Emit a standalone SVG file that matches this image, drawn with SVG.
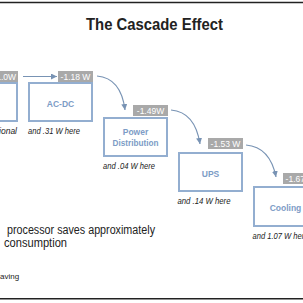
<svg xmlns="http://www.w3.org/2000/svg" width="303" height="303" viewBox="0 0 303 303">
<defs>
<style>
.rule{stroke:#222;stroke-width:1.5}
.box{fill:#fff;stroke:#93aed0;stroke-width:2}
.lbl{fill:#a9a9a9}
.lt{font-family:"Liberation Sans",Arial,sans-serif;font-size:8.5px;fill:#fff}
.bt{font-family:"Liberation Sans",Arial,sans-serif;font-size:8.5px;font-weight:bold;fill:#7d9cc6;text-anchor:middle}
.cap{font-family:"Liberation Sans",Arial,sans-serif;font-size:8.5px;font-style:italic;fill:#222}
.body{font-family:"Liberation Sans",Arial,sans-serif;font-size:12px;fill:#222}
.conn{fill:none;stroke:#7893b4;stroke-width:1.2}
</style>
<marker id="ah" markerWidth="6" markerHeight="6" refX="6" refY="3" orient="auto" markerUnits="userSpaceOnUse">
<path d="M0,0 L6,3 L0,6 Z" fill="#7893b4"/>
</marker>
</defs>
<rect width="303" height="303" fill="#fff"/>
<line class="rule" x1="0" y1="2.5" x2="303" y2="2.5"/>
<line class="rule" x1="0" y1="298.8" x2="303" y2="298.8"/>
<text x="154.5" y="30" font-family="Liberation Sans, Arial, sans-serif" font-size="16.5" font-weight="bold" fill="#222" text-anchor="middle" textLength="137" lengthAdjust="spacingAndGlyphs">The Cascade Effect</text>

<g id="connectors">
<line class="conn" x1="23" y1="76.5" x2="57" y2="76.5" marker-end="url(#ah)"/>
<path class="conn" d="M97,76 Q121,78 125,110" marker-end="url(#ah)"/>
<path class="conn" d="M171,110 Q195,112 200,144" marker-end="url(#ah)"/>
<path class="conn" d="M246,145 Q270,147 276,177" marker-end="url(#ah)"/>
</g>

<g id="node-server">
<rect class="box" x="-46" y="83" width="63" height="38"/>
<rect class="lbl" x="-17" y="71" width="35" height="11"/>
<text class="lt" x="16" y="80" text-anchor="end">-1.0W</text>
<text class="cap" x="17" y="134" text-anchor="end">tional</text>
</g>

<g id="node-acdc">
<rect class="box" x="29" y="83" width="63" height="38"/>
<rect class="lbl" x="58" y="71" width="35" height="11"/>
<text class="lt" x="75.5" y="80" text-anchor="middle">-1.18 W</text>
<text class="bt" x="60.5" y="107">AC-DC</text>
<text class="cap" x="28" y="134" textLength="52" lengthAdjust="spacingAndGlyphs">and .31 W here</text>
</g>

<g id="node-pd">
<rect class="box" x="104" y="118" width="63" height="38"/>
<rect class="lbl" x="133" y="105" width="35" height="11"/>
<text class="lt" x="150.5" y="114" text-anchor="middle">-1.49W</text>
<text class="bt" x="135.5" y="135">Power</text>
<text class="bt" x="135.5" y="146" textLength="46" lengthAdjust="spacingAndGlyphs">Distribution</text>
<text class="cap" x="103" y="169" textLength="52" lengthAdjust="spacingAndGlyphs">and .04 W here</text>
</g>

<g id="node-ups">
<rect class="box" x="179" y="153" width="63" height="38"/>
<rect class="lbl" x="208" y="138" width="35" height="11"/>
<text class="lt" x="225.5" y="147" text-anchor="middle">-1.53 W</text>
<text class="bt" x="210.5" y="176.5">UPS</text>
<text class="cap" x="177.5" y="203.5" textLength="53" lengthAdjust="spacingAndGlyphs">and .14 W here</text>
</g>

<g id="node-cooling">
<rect class="box" x="254" y="187" width="63" height="39"/>
<rect class="lbl" x="283" y="173" width="35" height="11"/>
<text class="lt" x="300.5" y="182" text-anchor="middle">-1.67 W</text>
<text class="bt" x="285.5" y="211">Cooling</text>
<text class="cap" x="252.5" y="238.5" textLength="56" lengthAdjust="spacingAndGlyphs">and 1.07 W here</text>
</g>

<text class="body" x="7" y="233.5" textLength="148" lengthAdjust="spacingAndGlyphs">processor saves approximately</text>
<text class="body" x="4" y="247" textLength="63" lengthAdjust="spacingAndGlyphs">consumption</text>
<text x="0" y="279" font-family="Liberation Sans, Arial, sans-serif" font-size="8" fill="#222">aving</text>
</svg>
